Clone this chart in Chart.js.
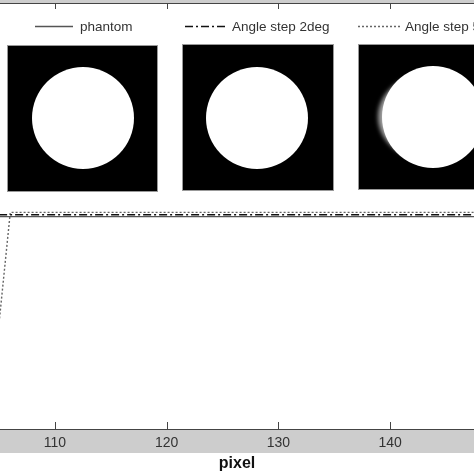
<!DOCTYPE html>
<html>
<head>
<meta charset="utf-8">
<script src="https://cdn.jsdelivr.net/npm/chart.js@4.4.1/dist/chart.umd.min.js"></script>
<style>
  html, body { margin: 0; padding: 0; background: #fff; }
  #wrap { width: 474px; height: 474px; position: relative; }
</style>
</head>
<body>
<div id="wrap"><canvas id="c"></canvas></div>
<script>
// profile samples (pixel index along the line through the phantom)
const pixels   = [105,106,107,108,109,110,111,112,113,114,115,116,117,118,119,120,121,122,123,124,125,126,127,128,129,130,131,132,133,134,135,136,137,138,139,140,141,142,143,144,145,146,147,148];
const phantom  = [0.997,0.997,0.997,0.997,0.997,0.997,0.997,0.997,0.997,0.997,0.997,0.997,0.997,0.997,0.997,0.997,0.997,0.997,0.997,0.997,0.997,0.997,0.997,0.997,0.997,0.997,0.997,0.997,0.997,0.997,0.997,0.997,0.997,0.997,0.997,0.997,0.997,0.997,0.997,0.997,0.997,0.997,0.997,0.997];
const step2deg = [1.006,1.006,1.006,1.006,1.006,1.006,1.006,1.006,1.006,1.006,1.006,1.006,1.006,1.006,1.006,1.006,1.006,1.006,1.006,1.006,1.006,1.006,1.006,1.006,1.006,1.006,1.006,1.006,1.006,1.006,1.006,1.006,1.006,1.006,1.006,1.006,1.006,1.006,1.006,1.006,1.006,1.006,1.006,1.006];
const stepN    = [0.50,1.017,1.017,1.017,1.017,1.017,1.017,1.017,1.017,1.017,1.017,1.017,1.017,1.017,1.017,1.017,1.017,1.017,1.017,1.017,1.017,1.017,1.017,1.017,1.017,1.017,1.017,1.017,1.017,1.017,1.017,1.017,1.017,1.017,1.017,1.017,1.017,1.017,1.017,1.017,1.017,1.017,1.017,1.017];
const xTicks   = [110, 120, 130, 140];
const labels   = ['phantom', 'Angle step 2deg', 'Angle step 5deg'];

const FONT = '"Liberation Sans", Arial, sans-serif';

const toXY = ys => ys.map((y, i) => ({ x: pixels[i], y: y }));

// figure background, white axes box, inward ticks
const frame = {
    id: 'frame',
    beforeDraw(chart) {
        const { ctx, chartArea: a, width, height } = chart;
        ctx.save();
        ctx.fillStyle = '#cdcdcd';
        ctx.fillRect(0, 0, width, height);
        ctx.fillStyle = '#fff';
        ctx.fillRect(a.left, a.top, a.right - a.left, a.bottom - a.top);
        ctx.fillRect(0, 453, width, height - 453);
        ctx.restore();
    },
    afterDatasetsDraw(chart) {
        const { ctx, chartArea: a, scales } = chart;
        ctx.save();
        ctx.strokeStyle = '#444';
        ctx.lineWidth = 1;
        ctx.beginPath();
        ctx.moveTo(a.left, a.top + 0.5); ctx.lineTo(a.right, a.top + 0.5);
        ctx.moveTo(a.left, a.bottom + 0.5); ctx.lineTo(a.right, a.bottom + 0.5);
        xTicks.forEach(v => {
            const px = Math.round(scales.x.getPixelForValue(v)) + 0.5;
            ctx.moveTo(px, a.bottom); ctx.lineTo(px, a.bottom - 7);
            ctx.moveTo(px, a.top); ctx.lineTo(px, a.top + 6);
        });
        ctx.stroke();
        ctx.restore();
    }
};

// reconstructed images shown as insets
function drawInset(ctx, x, y, w, h, cx, cy, r, blur, smear) {
    ctx.save();
    ctx.beginPath();
    ctx.rect(x, y, w, h);
    ctx.clip();
    ctx.fillStyle = '#000';
    ctx.fillRect(x, y, w, h);
    if (smear) {
        ctx.filter = 'blur(2px)';
        ctx.fillStyle = 'rgba(190,190,190,0.85)';
        ctx.beginPath(); ctx.ellipse(cx - 4, cy, r, r - 8, 0, 0, Math.PI * 2); ctx.fill();
    }
    ctx.filter = blur > 0 ? 'blur(' + blur + 'px)' : 'none';
    ctx.fillStyle = '#fff';
    ctx.beginPath(); ctx.arc(cx, cy, r, 0, Math.PI * 2); ctx.fill();
    ctx.filter = 'none';
    ctx.restore();
    ctx.save();
    ctx.strokeStyle = '#999';
    ctx.lineWidth = 1;
    ctx.strokeRect(x + 0.5, y + 0.5, w - 1, h - 1);
    ctx.restore();
}

const insets = {
    id: 'insets',
    afterDatasetsDraw(chart) {
        const ctx = chart.ctx;
        drawInset(ctx, 7, 45, 151, 147, 83, 118, 51, 0, false);
        drawInset(ctx, 182, 44, 152, 147, 257, 118, 51, 0.35, false);
        drawInset(ctx, 358, 44, 152, 146, 433, 117, 51, 0.5, true);

        // legend line samples + labels
        const rows = [[35, 73, 80], [185, 228, 232], [358, 400, 405]];
        ctx.save();
        ctx.font = '13.5px ' + FONT;
        ctx.textBaseline = 'middle';
        chart.data.datasets.forEach((ds, i) => {
            const [x0, x1, tx] = rows[i];
            ctx.strokeStyle = ds.borderColor;
            ctx.lineWidth = 1.3;
            ctx.setLineDash(ds.borderDash || []);
            ctx.beginPath();
            ctx.moveTo(x0, 26.5); ctx.lineTo(x1, 26.5);
            ctx.stroke();
            ctx.setLineDash([]);
            ctx.fillStyle = '#333';
            ctx.fillText(ds.label, tx, 27);
        });
        ctx.restore();
    }
};

new Chart(document.getElementById('c'), {
    type: 'line',
    data: {
        datasets: [
            { label: labels[0], data: toXY(phantom), borderColor: '#555', borderWidth: 1.4 },
            { label: labels[1], data: toXY(step2deg), borderColor: '#111', borderWidth: 1.4, borderDash: [8, 3, 2, 3] },
            { label: labels[2], data: toXY(stepN), borderColor: '#666', borderWidth: 1.4, borderDash: [2, 2] }
        ]
    },
    options: {
        responsive: true,
        maintainAspectRatio: false,
        animation: false,
        layout: { padding: { top: 3, left: 0, right: 0, bottom: 0 } },
        elements: {
            point: { radius: 0 },
            line: { tension: 0, fill: false }
        },
        plugins: {
            legend: { display: false },
            tooltip: { enabled: false }
        },
        scales: {
            x: {
                type: 'linear',
                min: 105.08,
                max: 147.5,
                afterBuildTicks: s => { s.ticks = xTicks.map(v => ({ value: v })); },
                afterFit: s => { s.height = 45; },
                grid: { display: false, drawTicks: false },
                border: { display: false },
                ticks: { color: '#333', font: { family: FONT, size: 14 }, padding: 6 },
                title: {
                    display: true,
                    text: 'pixel',
                    color: '#111',
                    font: { family: FONT, size: 16, weight: 'bold' },
                    padding: { top: 0, bottom: 1 }
                }
            },
            y: {
                display: false,
                min: 0,
                max: 2
            }
        }
    },
    plugins: [frame, insets]
});
</script>
</body>
</html>
